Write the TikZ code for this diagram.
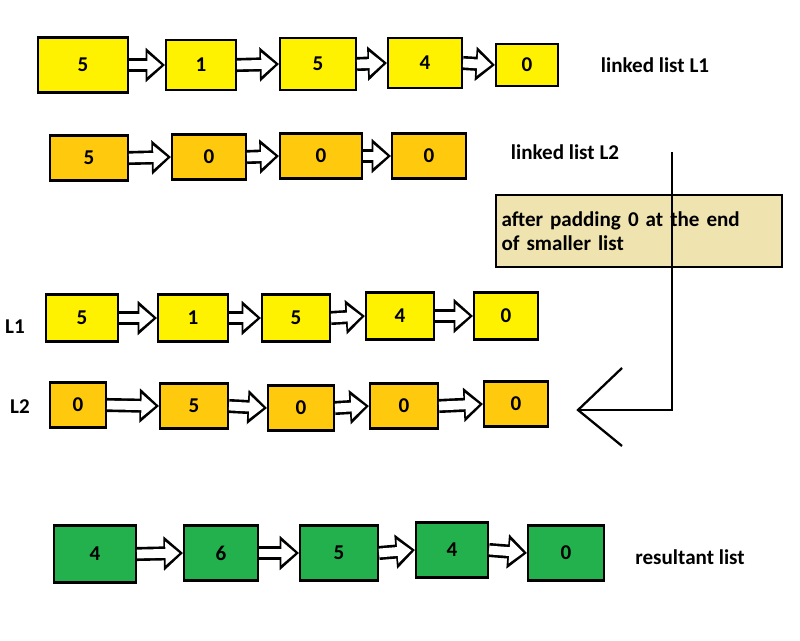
\documentclass[tikz,border=0pt]{standalone}
\usepackage{fontspec}
\setmainfont{Carlito}
\usetikzlibrary{arrows.meta}
\definecolor{yel}{HTML}{FFF200}
\definecolor{org}{HTML}{FFC90E}
\definecolor{grn}{HTML}{22B14C}
\definecolor{tan}{HTML}{EFE4B0}
\begin{document}
\begin{tikzpicture}[x=0.02cm,y=-0.02cm,
    every node/.style={font=\bfseries\large},
    box/.style={rectangle,draw,line width=1.2pt,inner sep=0pt},
    l1/.style={box,fill=yel},
    l2/.style={box,fill=org},
    res/.style={box,fill=grn},
    link/.style={line width=5pt,white,-{Triangle[length=8pt,width=13pt]},shorten >=2pt,
      preaction={draw,black,line width=8pt,shorten >=0pt,-{Triangle[length=11pt,width=19pt]}}}
]
\useasboundingbox (0,0) rectangle (800,641);

% linked list L1
\node[l1,minimum width=1.8cm,minimum height=1.1cm] (a1) at (83,65) {5};
\node[l1,minimum width=1.4cm,minimum height=1cm]   (a2) at (201,65) {1};
\node[l1,minimum width=1.52cm,minimum height=1.04cm] (a3) at (318,64) {5};
\node[l1,minimum width=1.48cm,minimum height=1cm]  (a4) at (425,63) {4};
\node[l1,minimum width=1.24cm,minimum height=0.84cm] (a5) at (527,65) {0};
\node at (655,65) {linked list L1};

% linked list L2
\node[l2,minimum width=1.56cm,minimum height=0.9cm] (b1) at (89,158) {5};
\node[l2,minimum width=1.48cm,minimum height=0.9cm] (b2) at (209,157) {0};
\node[l2,minimum width=1.64cm,minimum height=0.9cm] (b3) at (321,156) {0};
\node[l2,minimum width=1.48cm,minimum height=0.9cm] (b4) at (429,156) {0};
\node at (565,152) {linked list L2};

% note
\node[box,fill=tan,line width=1pt,minimum width=5.72cm,minimum height=1.44cm,
      align=left,text width=5.5cm] (note) at (639,231) {after padding 0 at the end\\of smaller list};
\coordinate (top) at (672,152);
\coordinate (knee) at (672,410);
\coordinate (tip) at (578,410);
\coordinate (w1) at (622,368);
\coordinate (w2) at (622,446);
\draw[line width=1.3pt] (top) -- (knee) -- (tip);
\draw[line width=1.3pt] (w1) -- (tip) -- (w2);

% padded lists
\node at (15,327) {L1};
\node[l1,minimum width=1.44cm,minimum height=0.94cm] (c1) at (82,318) {5};
\node[l1,minimum width=1.4cm,minimum height=0.94cm]  (c2) at (193,318) {1};
\node[l1,minimum width=1.36cm,minimum height=0.94cm] (c3) at (296,318) {5};
\node[l1,minimum width=1.36cm,minimum height=0.94cm] (c4) at (400,316) {4};
\node[l1,minimum width=1.28cm,minimum height=0.94cm] (c5) at (506,316) {0};
\node at (20,407) {L2};
\node[l2,minimum width=1.12cm,minimum height=0.9cm]  (d1) at (78,405) {0};
\node[l2,minimum width=1.36cm,minimum height=0.9cm]  (d2) at (194,406) {5};
\node[l2,minimum width=1.32cm,minimum height=0.9cm]  (d3) at (301,408) {0};
\node[l2,minimum width=1.36cm,minimum height=0.9cm]  (d4) at (404,406) {0};
\node[l2,minimum width=1.28cm,minimum height=0.9cm]  (d5) at (516,404) {0};

% resultant list
\node[res,minimum width=1.64cm,minimum height=1.14cm] (e1) at (95,554) {4};
\node[res,minimum width=1.48cm,minimum height=1.1cm]  (e2) at (221,553) {6};
\node[res,minimum width=1.56cm,minimum height=1.1cm]  (e3) at (339,553) {5};
\node[res,minimum width=1.44cm,minimum height=1.1cm]  (e4) at (452,550) {4};
\node[res,minimum width=1.52cm,minimum height=1.1cm]  (e5) at (566,553) {0};
\node at (690,557) {resultant list};

% links
\foreach \r in {a,c,d,e}
  \foreach \i/\j in {1/2,2/3,3/4,4/5}
    \draw[link] (\r\i.east) -- (\r\j.west);
\foreach \i/\j in {1/2,2/3,3/4}
  \draw[link] (b\i.east) -- (b\j.west);
\end{tikzpicture}
\end{document}
